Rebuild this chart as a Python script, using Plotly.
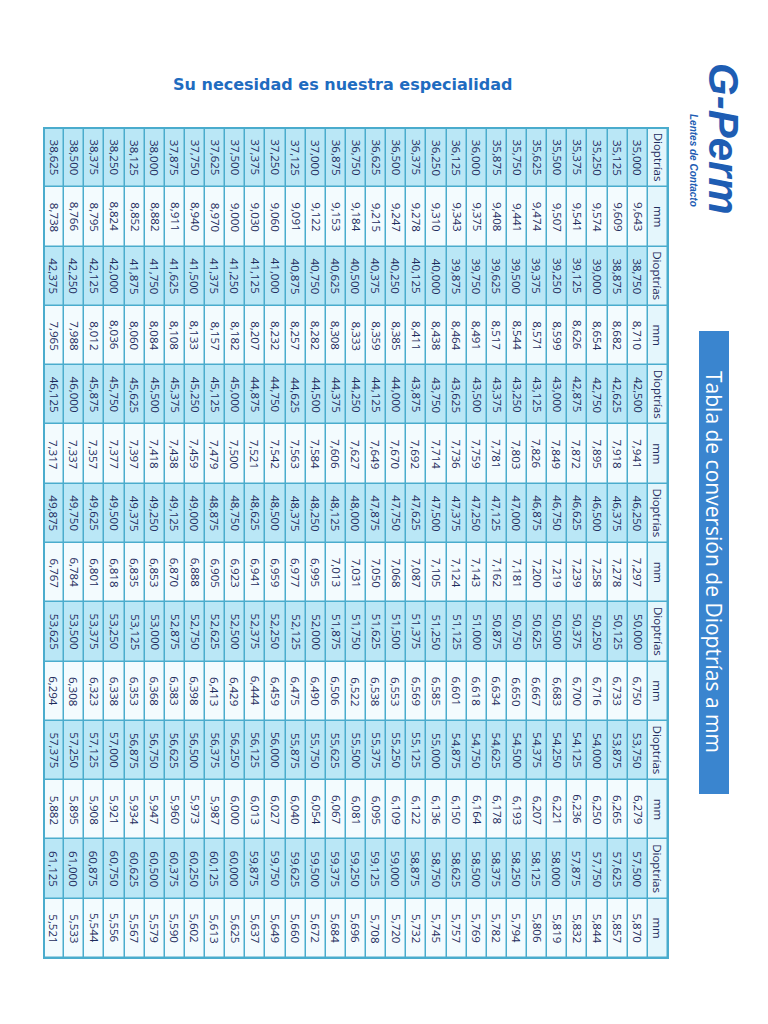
import plotly.graph_objects as go

# datos de la tabla (cada grupo: dioptrias y mm)
dioptrias_1 = "35,000 35,125 35,250 35,375 35,500 35,625 35,750 35,875 36,000 36,125 36,250 36,375 36,500 36,625 36,750 36,875 37,000 37,125 37,250 37,375 37,500 37,625 37,750 37,875 38,000 38,125 38,250 38,375 38,500 38,625".split()
mm_1 = "9,643 9,609 9,574 9,541 9,507 9,474 9,441 9,408 9,375 9,343 9,310 9,278 9,247 9,215 9,184 9,153 9,122 9,091 9,060 9,030 9,000 8,970 8,940 8,911 8,882 8,852 8,824 8,795 8,766 8,738".split()
dioptrias_2 = "38,750 38,875 39,000 39,125 39,250 39,375 39,500 39,625 39,750 39,875 40,000 40,125 40,250 40,375 40,500 40,625 40,750 40,875 41,000 41,125 41,250 41,375 41,500 41,625 41,750 41,875 42,000 42,125 42,250 42,375".split()
mm_2 = "8,710 8,682 8,654 8,626 8,599 8,571 8,544 8,517 8,491 8,464 8,438 8,411 8,385 8,359 8,333 8,308 8,282 8,257 8,232 8,207 8,182 8,157 8,133 8,108 8,084 8,060 8,036 8,012 7,988 7,965".split()
dioptrias_3 = "42,500 42,625 42,750 42,875 43,000 43,125 43,250 43,375 43,500 43,625 43,750 43,875 44,000 44,125 44,250 44,375 44,500 44,625 44,750 44,875 45,000 45,125 45,250 45,375 45,500 45,625 45,750 45,875 46,000 46,125".split()
mm_3 = "7,941 7,918 7,895 7,872 7,849 7,826 7,803 7,781 7,759 7,736 7,714 7,692 7,670 7,649 7,627 7,606 7,584 7,563 7,542 7,521 7,500 7,479 7,459 7,438 7,418 7,397 7,377 7,357 7,337 7,317".split()
dioptrias_4 = "46,250 46,375 46,500 46,625 46,750 46,875 47,000 47,125 47,250 47,375 47,500 47,625 47,750 47,875 48,000 48,125 48,250 48,375 48,500 48,625 48,750 48,875 49,000 49,125 49,250 49,375 49,500 49,625 49,750 49,875".split()
mm_4 = "7,297 7,278 7,258 7,239 7,219 7,200 7,181 7,162 7,143 7,124 7,105 7,087 7,068 7,050 7,031 7,013 6,995 6,977 6,959 6,941 6,923 6,905 6,888 6,870 6,853 6,835 6,818 6,801 6,784 6,767".split()
dioptrias_5 = "50,000 50,125 50,250 50,375 50,500 50,625 50,750 50,875 51,000 51,125 51,250 51,375 51,500 51,625 51,750 51,875 52,000 52,125 52,250 52,375 52,500 52,625 52,750 52,875 53,000 53,125 53,250 53,375 53,500 53,625".split()
mm_5 = "6,750 6,733 6,716 6,700 6,683 6,667 6,650 6,634 6,618 6,601 6,585 6,569 6,553 6,538 6,522 6,506 6,490 6,475 6,459 6,444 6,429 6,413 6,398 6,383 6,368 6,353 6,338 6,323 6,308 6,294".split()
dioptrias_6 = "53,750 53,875 54,000 54,125 54,250 54,375 54,500 54,625 54,750 54,875 55,000 55,125 55,250 55,375 55,500 55,625 55,750 55,875 56,000 56,125 56,250 56,375 56,500 56,625 56,750 56,875 57,000 57,125 57,250 57,375".split()
mm_6 = "6,279 6,265 6,250 6,236 6,221 6,207 6,193 6,178 6,164 6,150 6,136 6,122 6,109 6,095 6,081 6,067 6,054 6,040 6,027 6,013 6,000 5,987 5,973 5,960 5,947 5,934 5,921 5,908 5,895 5,882".split()
dioptrias_7 = "57,500 57,625 57,750 57,875 58,000 58,125 58,250 58,375 58,500 58,625 58,750 58,875 59,000 59,125 59,250 59,375 59,500 59,625 59,750 59,875 60,000 60,125 60,250 60,375 60,500 60,625 60,750 60,875 61,000 61,125".split()
mm_7 = "5,870 5,857 5,844 5,832 5,819 5,806 5,794 5,782 5,769 5,757 5,745 5,732 5,720 5,708 5,696 5,684 5,672 5,660 5,649 5,637 5,625 5,613 5,602 5,590 5,579 5,567 5,556 5,544 5,533 5,521".split()

encabezados = ["Dioptrías", "mm"] * 7
columnas = [dioptrias_1, mm_1, dioptrias_2, mm_2, dioptrias_3, mm_3, dioptrias_4, mm_4,
            dioptrias_5, mm_5, dioptrias_6, mm_6, dioptrias_7, mm_7]

n_filas = len(dioptrias_1)

# z: 0 encabezado, 1 dioptrias, 2 mm ; x = fila (0 = encabezado), y = columna
z = []
for j in range(len(columnas)):
    fila = [0]
    for i in range(n_filas):
        fila.append(1 if j % 2 == 0 else 2)
    z.append(fila)

W, H = 768, 1024
OFF = 8  # margen del body de la pagina

def px(x, y):
    return (x - OFF) / W, 1 - (y - OFF) / H

fig = go.Figure()
fig.add_trace(go.Heatmap(
    z=z, x=list(range(n_filas + 1)), y=list(range(len(columnas))),
    colorscale=[[0, "#e4f6fc"], [0.33, "#e4f6fc"], [0.34, "#bae7f6"], [0.66, "#bae7f6"],
                [0.67, "#f3fbfe"], [1, "#f3fbfe"]],
    zmin=0, zmax=2, showscale=False, xgap=1.5, ygap=1.5, hoverinfo="skip"))

anns = []
fuente = dict(family="Open Sans", size=11.5, color="#1d2b5c")
for j, col in enumerate(columnas):
    anns.append(dict(x=0, y=j, text=encabezados[j], textangle=90, showarrow=False,
                     xref="x", yref="y", font=fuente))
    for i, v in enumerate(col):
        anns.append(dict(x=i + 1, y=j, text=v, textangle=90, showarrow=False,
                         xref="x", yref="y", font=fuente))

def nota(x, y, texto, fuente, angulo=0):
    x0, y0 = px(x, y)
    anns.append(dict(x=x0, y=y0, xref="paper", yref="paper", showarrow=False,
                     xanchor="center", yanchor="middle", textangle=angulo,
                     text=texto, font=fuente))

# subtitulo
nota(342, 84, "<b>Su necesidad es nuestra especialidad</b>",
     dict(family="DejaVu Sans", size=16, color="#1f6cc0"))
# logo
nota(724, 139, "<b><i>G-Perm</i></b>",
     dict(family="Liberation Sans", size=42, color="#1e5db3"), 90)
nota(694, 160, "<b><i>Lentes de Contacto</i></b>",
     dict(family="Liberation Sans", size=10, color="#1e5db3"), 90)
# titulo en caja
nota(714, 562, "Tabla de conversión de Dioptrías a mm",
     dict(family="Open Sans", size=21, color="white"), 90)

tx0, ty1 = px(44, 128)
tx1, ty0 = px(668, 958)
bx0, by1 = px(699, 331)
bx1, by0 = px(729, 794)

fig.update_layout(
    width=W, height=H, margin=dict(l=0, r=0, t=0, b=0),
    paper_bgcolor="white", plot_bgcolor="#4aaccd",
    xaxis=dict(domain=[tx0, tx1], autorange="reversed", visible=False, showgrid=False),
    yaxis=dict(domain=[ty0, ty1], autorange="reversed", visible=False, showgrid=False),
    annotations=anns,
    shapes=[dict(type="rect", xref="paper", yref="paper", x0=bx0, x1=bx1,
                 y0=by0, y1=by1, fillcolor="#3a85cf", line=dict(width=0), layer="below"),
            dict(type="rect", xref="paper", yref="paper", x0=tx0, x1=tx1,
                 y0=ty0, y1=ty1, line=dict(color="#4aaccd", width=2))],
)

fig.write_html("out.html")
